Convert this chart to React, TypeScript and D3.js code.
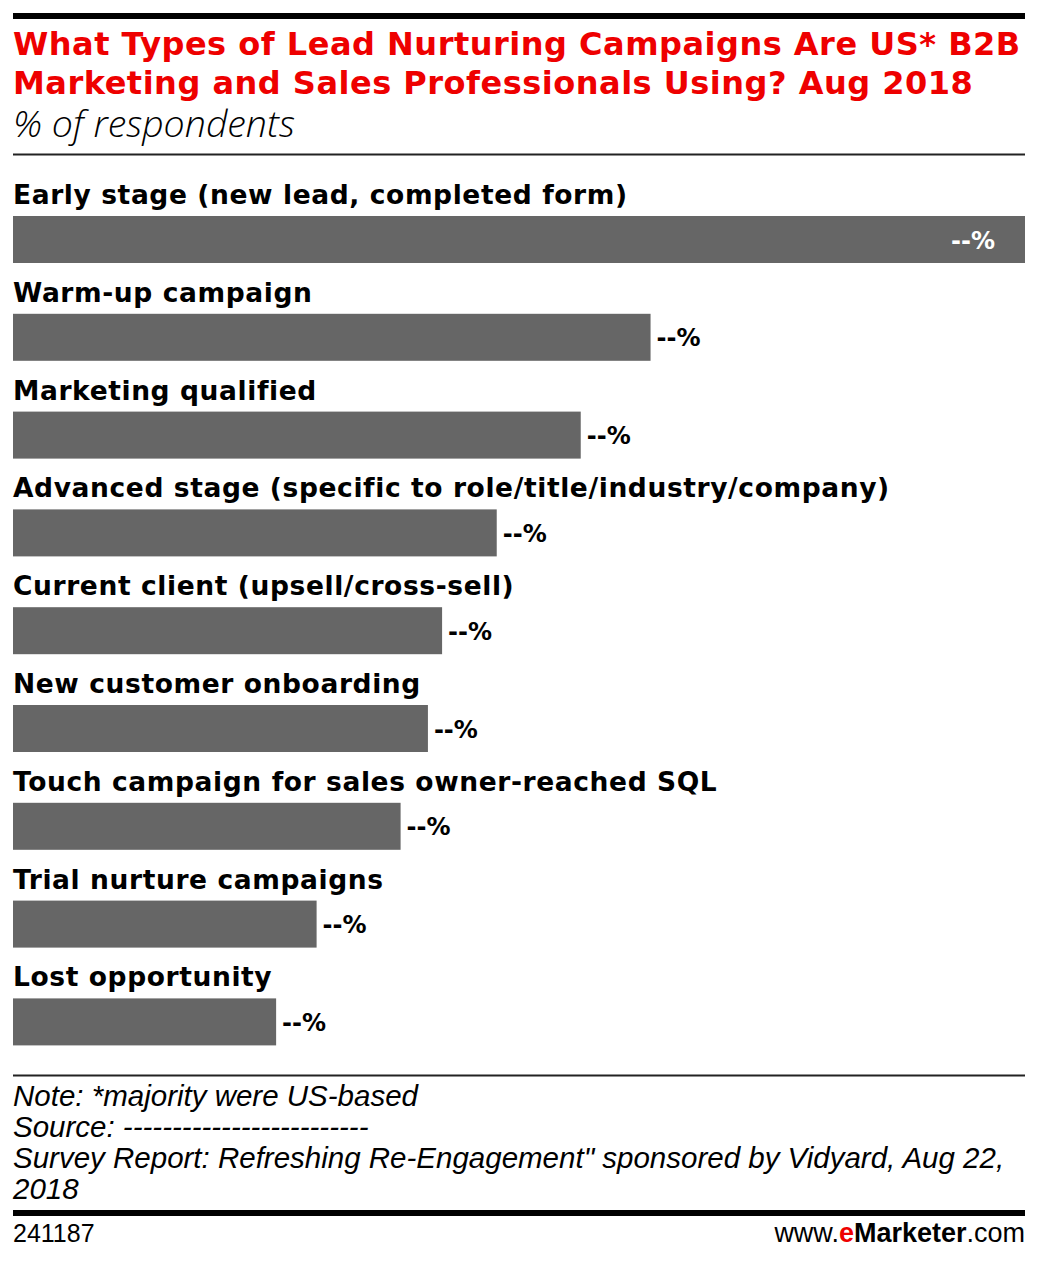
import * as d3 from "d3";

const categories = [
  "Early stage (new lead, completed form)",
  "Warm-up campaign",
  "Marketing qualified",
  "Advanced stage (specific to role/title/industry/company)",
  "Current client (upsell/cross-sell)",
  "New customer onboarding",
  "Touch campaign for sales owner-reached SQL",
  "Trial nurture campaigns",
  "Lost opportunity",
];
// relative bar lengths (labels are masked as "--%")
const values = [100, 63.0, 56.1, 47.8, 42.4, 41.0, 38.3, 30.0, 26.0];
const valueLabels = ["--%", "--%", "--%", "--%", "--%", "--%", "--%", "--%", "--%"];

const titleLines = [
  "What Types of Lead Nurturing Campaigns Are US* B2B",
  "Marketing and Sales Professionals Using? Aug 2018",
];
const subtitle = "% of respondents";
const noteLines = [
  "Note: *majority were US-based",
  "Source: -------------------------",
  'Survey Report: Refreshing Re-Engagement" sponsored by Vidyard, Aug 22,',
  "2018",
];
const chartId = "241187";

const width = 1038;
const height = 1261;
const left = 13;
const right = 1025;
const barColor = "#666666";
const red = "#ee0000";
const headFont = "'DejaVu Sans', 'Open Sans', sans-serif";
const subFont = "'Open Sans', 'DejaVu Sans', sans-serif";
const noteFont = "'Liberation Sans', Arial, sans-serif";

export default function App() {
  const x = d3.scaleLinear().domain([0, d3.max(values) ?? 1]).range([left, right]);
  const y = d3.scaleBand<string>().domain(categories).range([168, 168 + categories.length * 97.8]);
  const barTop = 48;
  const barHeight = 47;

  return (
    <svg width={width} height={height} viewBox={`0 0 ${width} ${height}`} style={{ display: "block", margin: "-8px" }}>
      <rect x={0} y={0} width={width} height={height} fill="#fff" />
      <rect x={left} y={13} width={right - left} height={6} fill="#000" />

      {titleLines.map((line, i) => (
        <text key={line} x={left} y={55 + i * 39} fill={red} fontFamily={headFont} fontWeight={700} fontSize={32} letterSpacing={0.5}>
          {line}
        </text>
      ))}
      <text x={left} y={137} fill="#000" fontFamily={subFont} fontStyle="italic" fontWeight={300} fontSize={37.5}>
        {subtitle}
      </text>
      <line x1={left} x2={right} y1={154.5} y2={154.5} stroke="#222" strokeWidth={2} />

      {categories.map((cat, i) => {
        const top = y(cat) ?? 0;
        const inside = values[i] === d3.max(values);
        const end = x(values[i]);
        return (
          <g key={cat}>
            <text x={left} y={top + 36} fill="#000" fontFamily={headFont} fontWeight={700} fontSize={26.5} letterSpacing={0.6}>
              {cat}
            </text>
            <rect x={x(0)} y={top + barTop} width={end - x(0)} height={barHeight} fill={barColor} />
            <text
              x={inside ? end - 30 : end + 6}
              y={top + barTop + barHeight / 2 + 9}
              textAnchor={inside ? "end" : "start"}
              fill={inside ? "#fff" : "#000"}
              fontFamily={headFont}
              fontWeight={700}
              fontSize={24}
            >
              {valueLabels[i]}
            </text>
          </g>
        );
      })}

      <line x1={left} x2={right} y1={1075.5} y2={1075.5} stroke="#222" strokeWidth={2} />
      {noteLines.map((line, i) => (
        <text key={line} x={left} y={1106 + i * 31} fill="#000" fontFamily={noteFont} fontStyle="italic" fontSize={29.5}>
          {line}
        </text>
      ))}
      <rect x={left} y={1210} width={right - left} height={6} fill="#000" />
      <text x={left} y={1242} fill="#000" fontFamily={noteFont} fontSize={25}>
        {chartId}
      </text>
      <text x={right} y={1242} textAnchor="end" fill="#000" fontFamily={noteFont} fontSize={27}>
        <tspan>www.</tspan>
        <tspan fontWeight={700} fill={red}>e</tspan>
        <tspan fontWeight={700}>Marketer</tspan>
        <tspan>.com</tspan>
      </text>
    </svg>
  );
}
